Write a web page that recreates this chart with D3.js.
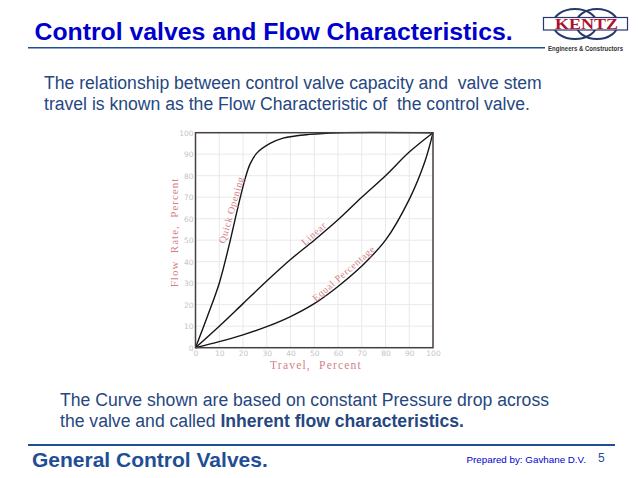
<!DOCTYPE html>
<html>
<head>
<meta charset="utf-8">
<script src="https://cdn.jsdelivr.net/npm/d3@7/dist/d3.min.js"></script>
<style>
  html, body { margin: 0; padding: 0; background: #fff; overflow: hidden; }
  text { font-family: "Liberation Sans", Arial, sans-serif; white-space: pre; }
  .serif { font-family: "Liberation Serif", "DejaVu Serif", serif; }
</style>
</head>
<body>
<div id="chart"></div>
<script>
var xTicks = [0, 10, 20, 30, 40, 50, 60, 70, 80, 90, 100];
var yTicks = [0, 10, 20, 30, 40, 50, 60, 70, 80, 90, 100];

var quickX = [0, 5, 10, 14, 18, 21, 23, 25.8, 31.4, 36.9, 48, 60, 100];
var quickY = [0, 14.5, 30, 47, 66, 79, 85.5, 90.5, 95, 97.5, 99.2, 100, 100];

var linearX = [0, 10, 20, 30, 40, 50, 60, 70, 80, 90, 100];
var linearY = [0, 10, 20.5, 31, 41, 50, 59.5, 70, 80, 91, 100];

var equalX = [0, 10, 20, 30, 40, 50, 60, 70, 80, 90, 96.7, 100];
var equalY = [0, 2.8, 6, 9.8, 14.5, 20.5, 28.5, 38, 50, 69, 87, 100];

var w = 638;
var h = 478;
var blue = "#0000cc";
var navy = "#1f4e96";
var bodyBlue = "#26477f";
var pink = "#d47f85";

var svg = d3.select("#chart")
    .append("svg")
    .attr("width", w)
    .attr("height", h);

var xScale = d3.scaleLinear().domain([0, 100]).range([195.5, 433]);
var yScale = d3.scaleLinear().domain([0, 100]).range([347.7, 132.7]);

// slide header
svg.append("text")
    .attr("x", 34.5).attr("y", 39.5)
    .attr("fill", blue)
    .style("font-size", "24.8px").style("font-weight", "bold")
    .text("Control valves and Flow Characteristics.");

svg.append("line")
    .attr("x1", 28).attr("x2", 545).attr("y1", 47.7).attr("y2", 47.7)
    .attr("stroke", navy).attr("stroke-width", 1.5);

// logo
var logo = svg.append("g");
logo.append("ellipse").attr("cx", 575).attr("cy", 24).attr("rx", 22).attr("ry", 15)
    .attr("fill", "none").attr("stroke", "#26386e").attr("stroke-width", 2);
logo.append("ellipse").attr("cx", 597).attr("cy", 24).attr("rx", 21).attr("ry", 15)
    .attr("fill", "none").attr("stroke", "#26386e").attr("stroke-width", 2);
logo.append("rect").attr("x", 543.5).attr("y", 17.5).attr("width", 84).attr("height", 12.5)
    .attr("fill", "#fff").attr("stroke", "#26386e").attr("stroke-width", 1.2);
logo.append("text").attr("x", 555).attr("y", 28.5)
    .attr("textLength", 63).attr("lengthAdjust", "spacingAndGlyphs")
    .attr("fill", "#b01030")
    .style("font-family", "'Liberation Serif', serif")
    .style("font-size", "14px").style("font-weight", "bold")
    .text("KENTZ");
logo.append("text").attr("x", 548).attr("y", 50.5)
    .attr("textLength", 75).attr("lengthAdjust", "spacingAndGlyphs")
    .attr("fill", "#333")
    .style("font-size", "6.5px").style("font-weight", "bold")
    .text("Engineers & Constructors");

// intro text
svg.append("text").attr("x", 44).attr("y", 88.5).attr("fill", bodyBlue)
    .style("font-size", "17.6px")
    .text("The relationship between control valve capacity and  valve stem");
svg.append("text").attr("x", 44).attr("y", 110).attr("fill", bodyBlue)
    .style("font-size", "17.6px")
    .text("travel is known as the Flow Characteristic of  the control valve.");

// grid
svg.append("g").selectAll("line")
    .data(xTicks)
    .enter()
    .append("line")
    .attr("x1", d => xScale(d)).attr("x2", d => xScale(d))
    .attr("y1", yScale(0)).attr("y2", yScale(100))
    .attr("stroke", "#e9e9ed").attr("stroke-width", 1);

svg.append("g").selectAll("line")
    .data(yTicks)
    .enter()
    .append("line")
    .attr("x1", xScale(0)).attr("x2", xScale(100))
    .attr("y1", d => yScale(d)).attr("y2", d => yScale(d))
    .attr("stroke", "#e9e9ed").attr("stroke-width", 1);

// axes
var xAxis = svg.append("g")
    .attr("transform", "translate(0," + yScale(0) + ")")
    .call(d3.axisBottom(xScale).tickValues(xTicks).tickSize(0).tickPadding(3));

var yAxis = svg.append("g")
    .attr("transform", "translate(" + xScale(0) + ",0)")
    .call(d3.axisLeft(yScale).tickValues(yTicks).tickSize(0).tickPadding(2));

[xAxis, yAxis].forEach(function (a) {
    a.select(".domain").remove();
    a.selectAll("text")
        .attr("fill", "#c4c4c4")
        .style("font-family", "'DejaVu Sans', sans-serif")
        .style("font-size", "7.5px");
});

// curves
var line = d3.line()
    .x(d => xScale(d[0]))
    .y(d => yScale(d[1]))
    .curve(d3.curveCatmullRom.alpha(0.5));

[[quickX, quickY], [linearX, linearY], [equalX, equalY]].forEach(function (s) {
    svg.append("path")
        .datum(d3.zip(s[0], s[1]))
        .attr("d", line)
        .attr("fill", "none")
        .attr("stroke", "#151515")
        .attr("stroke-width", 1.4);
});

// frame
svg.append("rect")
    .attr("x", xScale(0)).attr("y", yScale(100))
    .attr("width", xScale(100) - xScale(0))
    .attr("height", yScale(0) - yScale(100))
    .attr("fill", "none")
    .attr("stroke", "#4a3f3f").attr("stroke-width", 1.5);

// axis titles
svg.append("text").attr("class", "serif")
    .attr("x", 316).attr("y", 369)
    .attr("text-anchor", "middle").attr("fill", pink)
    .style("font-size", "11.5px").style("letter-spacing", "1.2px")
    .text("Travel,  Percent");

svg.append("text").attr("class", "serif")
    .attr("transform", "translate(178,232.5) rotate(-90)")
    .attr("text-anchor", "middle").attr("fill", pink)
    .style("font-size", "11px").style("letter-spacing", "1px")
    .text("Flow  Rate,  Percent");

// curve labels
var curveLabels = svg.append("g").attr("fill", pink)
    .style("font-size", "10px").style("letter-spacing", "0.6px");

curveLabels.append("text").attr("class", "serif")
    .attr("transform", "translate(225,244) rotate(-74)")
    .text("Quick Opening");
curveLabels.append("text").attr("class", "serif")
    .attr("transform", "translate(305,246) rotate(-42)")
    .text("Linear");
curveLabels.append("text").attr("class", "serif")
    .attr("transform", "translate(316,302) rotate(-41)")
    .text("Equal Percentage");

// lower text
svg.append("text").attr("x", 60).attr("y", 406).attr("fill", bodyBlue)
    .style("font-size", "17.6px")
    .text("The Curve shown are based on constant Pressure drop across");

var lower = svg.append("text").attr("x", 60).attr("y", 427).attr("fill", bodyBlue)
    .style("font-size", "17.6px");
lower.append("tspan").text("the valve and called ");
lower.append("tspan").style("font-weight", "bold").text("Inherent flow characteristics.");

// footer
svg.append("line")
    .attr("x1", 28).attr("x2", 615).attr("y1", 445).attr("y2", 445)
    .attr("stroke", navy).attr("stroke-width", 2);

svg.append("text")
    .attr("x", 32).attr("y", 467)
    .attr("fill", navy)
    .style("font-size", "21px").style("font-weight", "bold")
    .text("General Control Valves.");

svg.append("text")
    .attr("x", 466.5).attr("y", 463)
    .attr("fill", blue)
    .style("font-size", "9.8px")
    .text("Prepared by: Gavhane D.V.");

svg.append("text")
    .attr("x", 598).attr("y", 461.7)
    .attr("fill", navy)
    .style("font-size", "12px")
    .text("5");
</script>
</body>
</html>
